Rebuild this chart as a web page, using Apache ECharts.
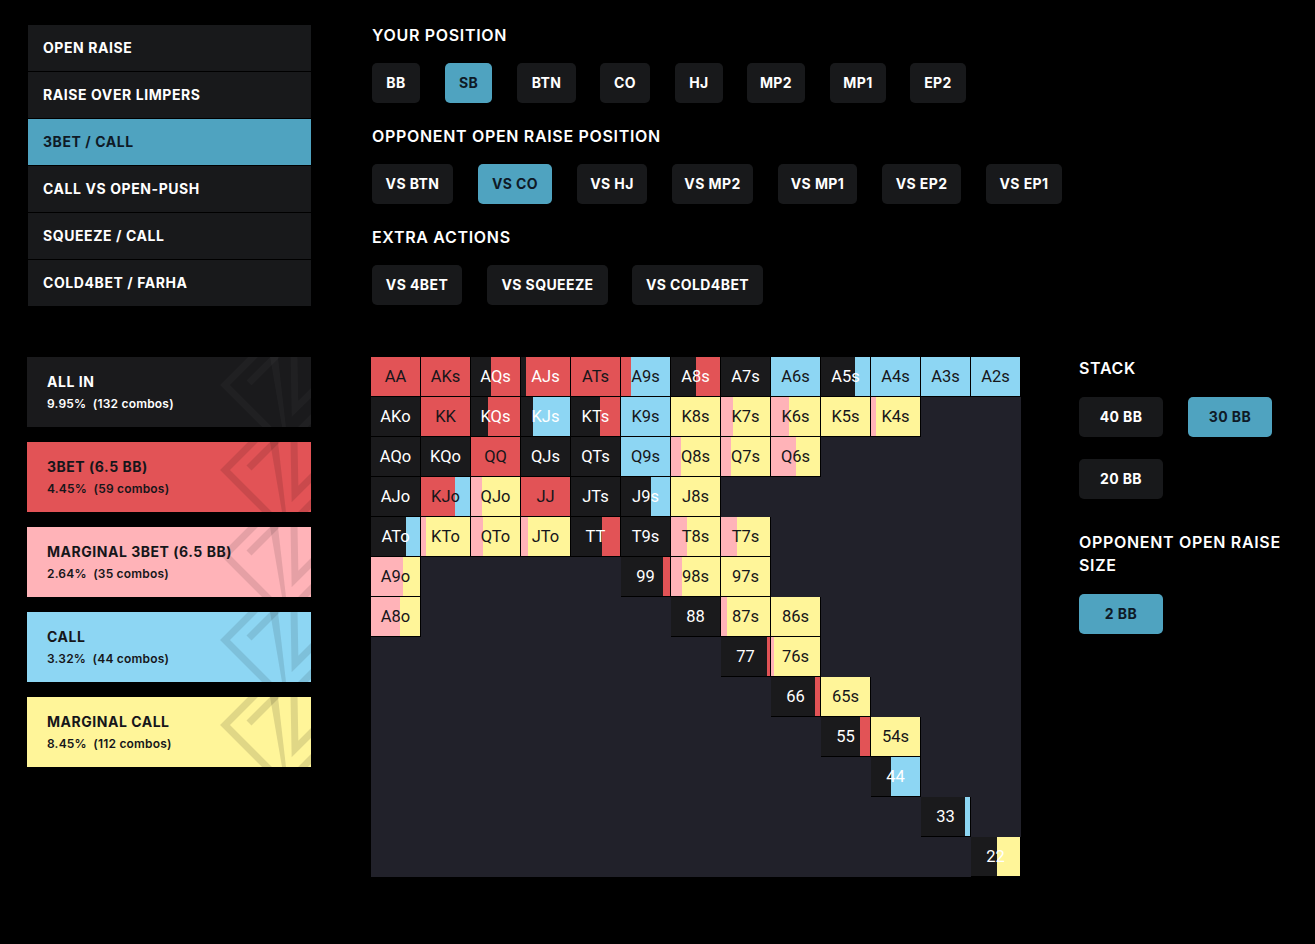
<!DOCTYPE html>
<html><head><meta charset="utf-8">
<script src="https://cdn.jsdelivr.net/npm/echarts@6/dist/echarts.min.js"></script>
<style>
html,body{margin:0;padding:0;background:#000;width:1315px;height:944px;overflow:hidden}
body{position:relative;font-family:Inter,"Open Sans",sans-serif;font-weight:700;color:#fff}
.h{position:absolute;font-size:16px;line-height:23px;font-weight:600;letter-spacing:.68px;white-space:nowrap}
.btn{position:absolute;height:40px;line-height:40px;border-radius:5px;background:#18191b;color:#fff;text-align:center;font-size:14px;font-weight:700;letter-spacing:.4px;white-space:nowrap}
.btn.on{background:#4fa3c0;color:#0e1a26}
.menu{position:absolute;left:28px;width:283px;background:#18191b;line-height:46px;font-size:14px;font-weight:700;letter-spacing:.58px;text-indent:15px;white-space:nowrap}
.menu.on{background:#4fa3c0;color:#0e1a26}
.card{position:absolute;left:27px;width:284px;height:70px;overflow:hidden}
.card svg{position:absolute;left:0;top:0}
.card .t{position:absolute;left:20px;top:15px;font-size:14px;line-height:20px;font-weight:700;letter-spacing:.52px;white-space:nowrap}
.card .s{position:absolute;left:20px;top:38px;font-size:12px;line-height:18px;font-weight:600;letter-spacing:.2px;white-space:pre}
#chart{position:absolute;left:371px;top:357px;width:650px;height:520px}
</style></head><body>
<div id="ui"></div>
<div id="chart"></div>
<script>
// ---- text of the page ----
const menuItems = ['OPEN RAISE','RAISE OVER LIMPERS','3BET / CALL','CALL VS OPEN-PUSH','SQUEEZE / CALL','COLD4BET / FARHA'];
const menuActive = '3BET / CALL';
const positions = ['BB','SB','BTN','CO','HJ','MP2','MP1','EP2'];
const opponents = ['VS BTN','VS CO','VS HJ','VS MP2','VS MP1','VS EP2','VS EP1'];
const extras = ['VS 4BET','VS SQUEEZE','VS COLD4BET'];
const stacks = ['40 BB','30 BB','20 BB'];
const raiseSizes = ['2 BB'];
const legendNames = ['ALL IN','3BET (6.5 BB)','MARGINAL 3BET (6.5 BB)','CALL','MARGINAL CALL'];
const legendPercents = ['9.95%','4.45%','2.64%','3.32%','8.45%'];
const legendCombos = ['132 combos','59 combos','35 combos','44 combos','112 combos'];

// ---- chart data: share of each hand (in %) per action ----
const ranks = ['A','K','Q','J','T','9','8','7','6','5','4','3','2'];
const allIn = [['AQs',40],['AJs',10],['A8s',50],['A7s',100],['A5s',68],['AKo',100],['KQs',34],['KJs',24],['KTs',58],
  ['AQo',100],['KQo',100],['QJs',100],['QTs',100],['AJo',100],['JTs',100],['J9s',60],['ATo',70],['TT',62],['T9s',100],
  ['99',84],['88',100],['77',92],['66',88],['55',78],['44',40],['33',88],['22',52]];
const threeBet = [['AA',100],['AKs',100],['AQs',60],['AJs',90],['ATs',100],['A9s',20],['A8s',50],['KK',100],['KQs',66],['KTs',42],
  ['QQ',100],['KJo',68],['JJ',100],['TT',38],['99',16],['77',8],['66',12],['55',22]];
const marginal3Bet = [['K7s',24],['K6s',36],['K4s',10],['Q8s',20],['Q7s',20],['Q6s',50],['QJo',22],['KTo',10],['QTo',24],['JTo',14],
  ['T8s',32],['T7s',32],['A9o',64],['98s',22],['A8o',58],['87s',12],['76s',6]];
const call = [['A9s',80],['A6s',100],['A5s',32],['A4s',100],['A3s',100],['A2s',100],['KJs',76],['K9s',100],['Q9s',100],['KJo',32],
  ['J9s',40],['ATo',30],['44',60],['33',10]];
const marginalCall = [['K8s',100],['K7s',76],['K6s',64],['K5s',100],['K4s',90],['Q8s',80],['Q7s',80],['Q6s',50],['QJo',78],['J8s',100],
  ['KTo',90],['QTo',76],['JTo',86],['T8s',68],['T7s',68],['A9o',36],['98s',78],['97s',100],['A8o',42],['87s',88],['86s',100],
  ['76s',94],['65s',100],['54s',100],['22',48]];

// ---- styling ----
const actionColors = ['#1a1a1c','#e25356','#ffb3b8','#8dd6f3','#fff599'];
const actionInk = ['#ffffff','#16161a','#16161a','#16161a','#16161a'];
const markInk = ['rgba(255,255,255,.028)','rgba(0,0,0,.11)','rgba(0,0,0,.1)','rgba(0,0,0,.1)','rgba(0,0,0,.12)'];
const menuTops = [25,72,119,166,213,260];
const layoutX = {
  pos:[[372,48],[445,47],[517,59],[600,50],[675,48],[747,58],[830,56],[910,56]],
  opp:[[372,81],[478,74],[577,70],[672,81],[778,79],[882,79],[986,76]],
  ext:[[372,90],[487,121],[632,131]]
};

// ---- page furniture ----
const ui = document.getElementById('ui');
function add(cls, text, css){ const d=document.createElement('div'); d.className=cls; d.textContent=text; d.style.cssText=css; ui.appendChild(d); return d; }
menuItems.forEach((m,i)=>add('menu'+(m===menuActive?' on':''),m,`top:${menuTops[i]}px;height:46px`));
add('h','YOUR POSITION','left:372px;top:24px');
add('h','OPPONENT OPEN RAISE POSITION','left:372px;top:125px');
add('h','EXTRA ACTIONS','left:372px;top:226px');
add('h','STACK','left:1079px;top:357px');
add('h','OPPONENT OPEN RAISE','left:1079px;top:531px');
add('h','SIZE','left:1079px;top:554px');
positions.forEach((t,i)=>add('btn'+(t==='SB'?' on':''),t,`left:${layoutX.pos[i][0]}px;width:${layoutX.pos[i][1]}px;top:63px`));
opponents.forEach((t,i)=>add('btn'+(t==='VS CO'?' on':''),t,`left:${layoutX.opp[i][0]}px;width:${layoutX.opp[i][1]}px;top:164px`));
extras.forEach((t,i)=>add('btn',t,`left:${layoutX.ext[i][0]}px;width:${layoutX.ext[i][1]}px;top:265px`));
add('btn',stacks[0],'left:1079px;width:84px;top:397px');
add('btn on',stacks[1],'left:1188px;width:84px;top:397px');
add('btn',stacks[2],'left:1079px;width:84px;top:459px');
add('btn on',raiseSizes[0],'left:1079px;width:84px;top:594px');
legendNames.forEach((name,i)=>{
  const c=document.createElement('div'); c.className='card';
  c.style.cssText=`top:${357+85*i}px;background:${actionColors[i]};color:${actionInk[i]}`;
  c.innerHTML=`<svg width="284" height="70" viewBox="0 0 284 70">
    <g fill="none" stroke="${markInk[i]}" stroke-width="7">
      <path d="M232,-6 L198,28 L252,82"/><path d="M222,26 L252,-4"/>
      <path d="M267,-2 L268,52 L290,30"/><path d="M292,54 L272,74"/></g>
    <path d="M243,0 L251,0 L259,70 L255,70 Z" fill="${markInk[i]}"/></svg>`;
  const t=document.createElement('div');t.className='t';t.textContent=name;c.appendChild(t);
  const s=document.createElement('div');s.className='s';s.textContent=legendPercents[i]+'  ('+legendCombos[i]+')';c.appendChild(s);
  ui.appendChild(c);
});

// ---- the range matrix ----
const cellOf = h => {
  const a=ranks.indexOf(h[0]), b=ranks.indexOf(h[1]);
  return h[2]==='o' ? [a,b] : [b,a];      // [column, row]; suited above the diagonal
};
const actions = [allIn,threeBet,marginal3Bet,call,marginalCall];
const handInfo = {};
const actionData = actions.map((list,i)=>list.map(([h,pct])=>{
  const info = handInfo[h] || (handInfo[h]={used:0,first:i});
  const row=[...cellOf(h),info.used,pct];
  info.used+=pct;
  return row;
}));
const hands = Object.keys(handInfo);
const GAP=1;
const insetRect=(api,start,pct)=>{
  const c=api.coord([api.value(0),api.value(1)]), s=api.size([1,1]);
  const left=c[0]-s[0]/2, top=c[1]-s[1]/2, edge=left+s[0]-GAP;
  const x0=Math.round(left+s[0]*start/100), x1=Math.min(edge,Math.round(left+s[0]*(start+pct)/100));
  return {x:x0,y:top,width:x1-x0,height:s[1]-GAP};
};
const series=[{
  type:'custom',name:'cell',silent:true,z:1,
  data:hands.map(cellOf),
  renderItem:(p,api)=>{
    const c=api.coord([api.value(0),api.value(1)]), s=api.size([1,1]);
    return {type:'rect',shape:{x:c[0]-s[0]/2,y:c[1]-s[1]/2,width:s[0],height:s[1]},style:{fill:'#000'}};
  }
}];
actionData.forEach((d,i)=>series.push({
  type:'custom',name:legendNames[i],silent:true,z:2,
  data:d,
  renderItem:(p,api)=>({type:'rect',shape:insetRect(api,api.value(2),api.value(3)),style:{fill:actionColors[i]}})
}));
series.push({
  type:'custom',name:'labels',silent:true,z:3,
  data:hands.map(h=>({value:cellOf(h),hand:h})),
  renderItem:(p,api)=>{
    const h=hands[p.dataIndex], c=api.coord([api.value(0),api.value(1)]);
    return {type:'text',style:{text:h,x:c[0]-GAP/2,y:c[1]-GAP/2,align:'center',verticalAlign:'middle',
      fill:handInfo[h].first===0?'#ffffff':'#16161a',fontFamily:'Roboto',fontSize:16.5,fontWeight:400}};
  }
});
const chart=echarts.init(document.getElementById('chart'),null,{renderer:'svg'});
chart.setOption({
  animation:false,
  backgroundColor:'transparent',
  tooltip:{show:false},
  grid:{show:true,left:0,top:0,right:0,bottom:0,backgroundColor:'#21212a',borderWidth:0},
  xAxis:{type:'category',data:ranks,show:false},
  yAxis:{type:'category',data:ranks,inverse:true,show:false},
  series
});
</script>
</body></html>
